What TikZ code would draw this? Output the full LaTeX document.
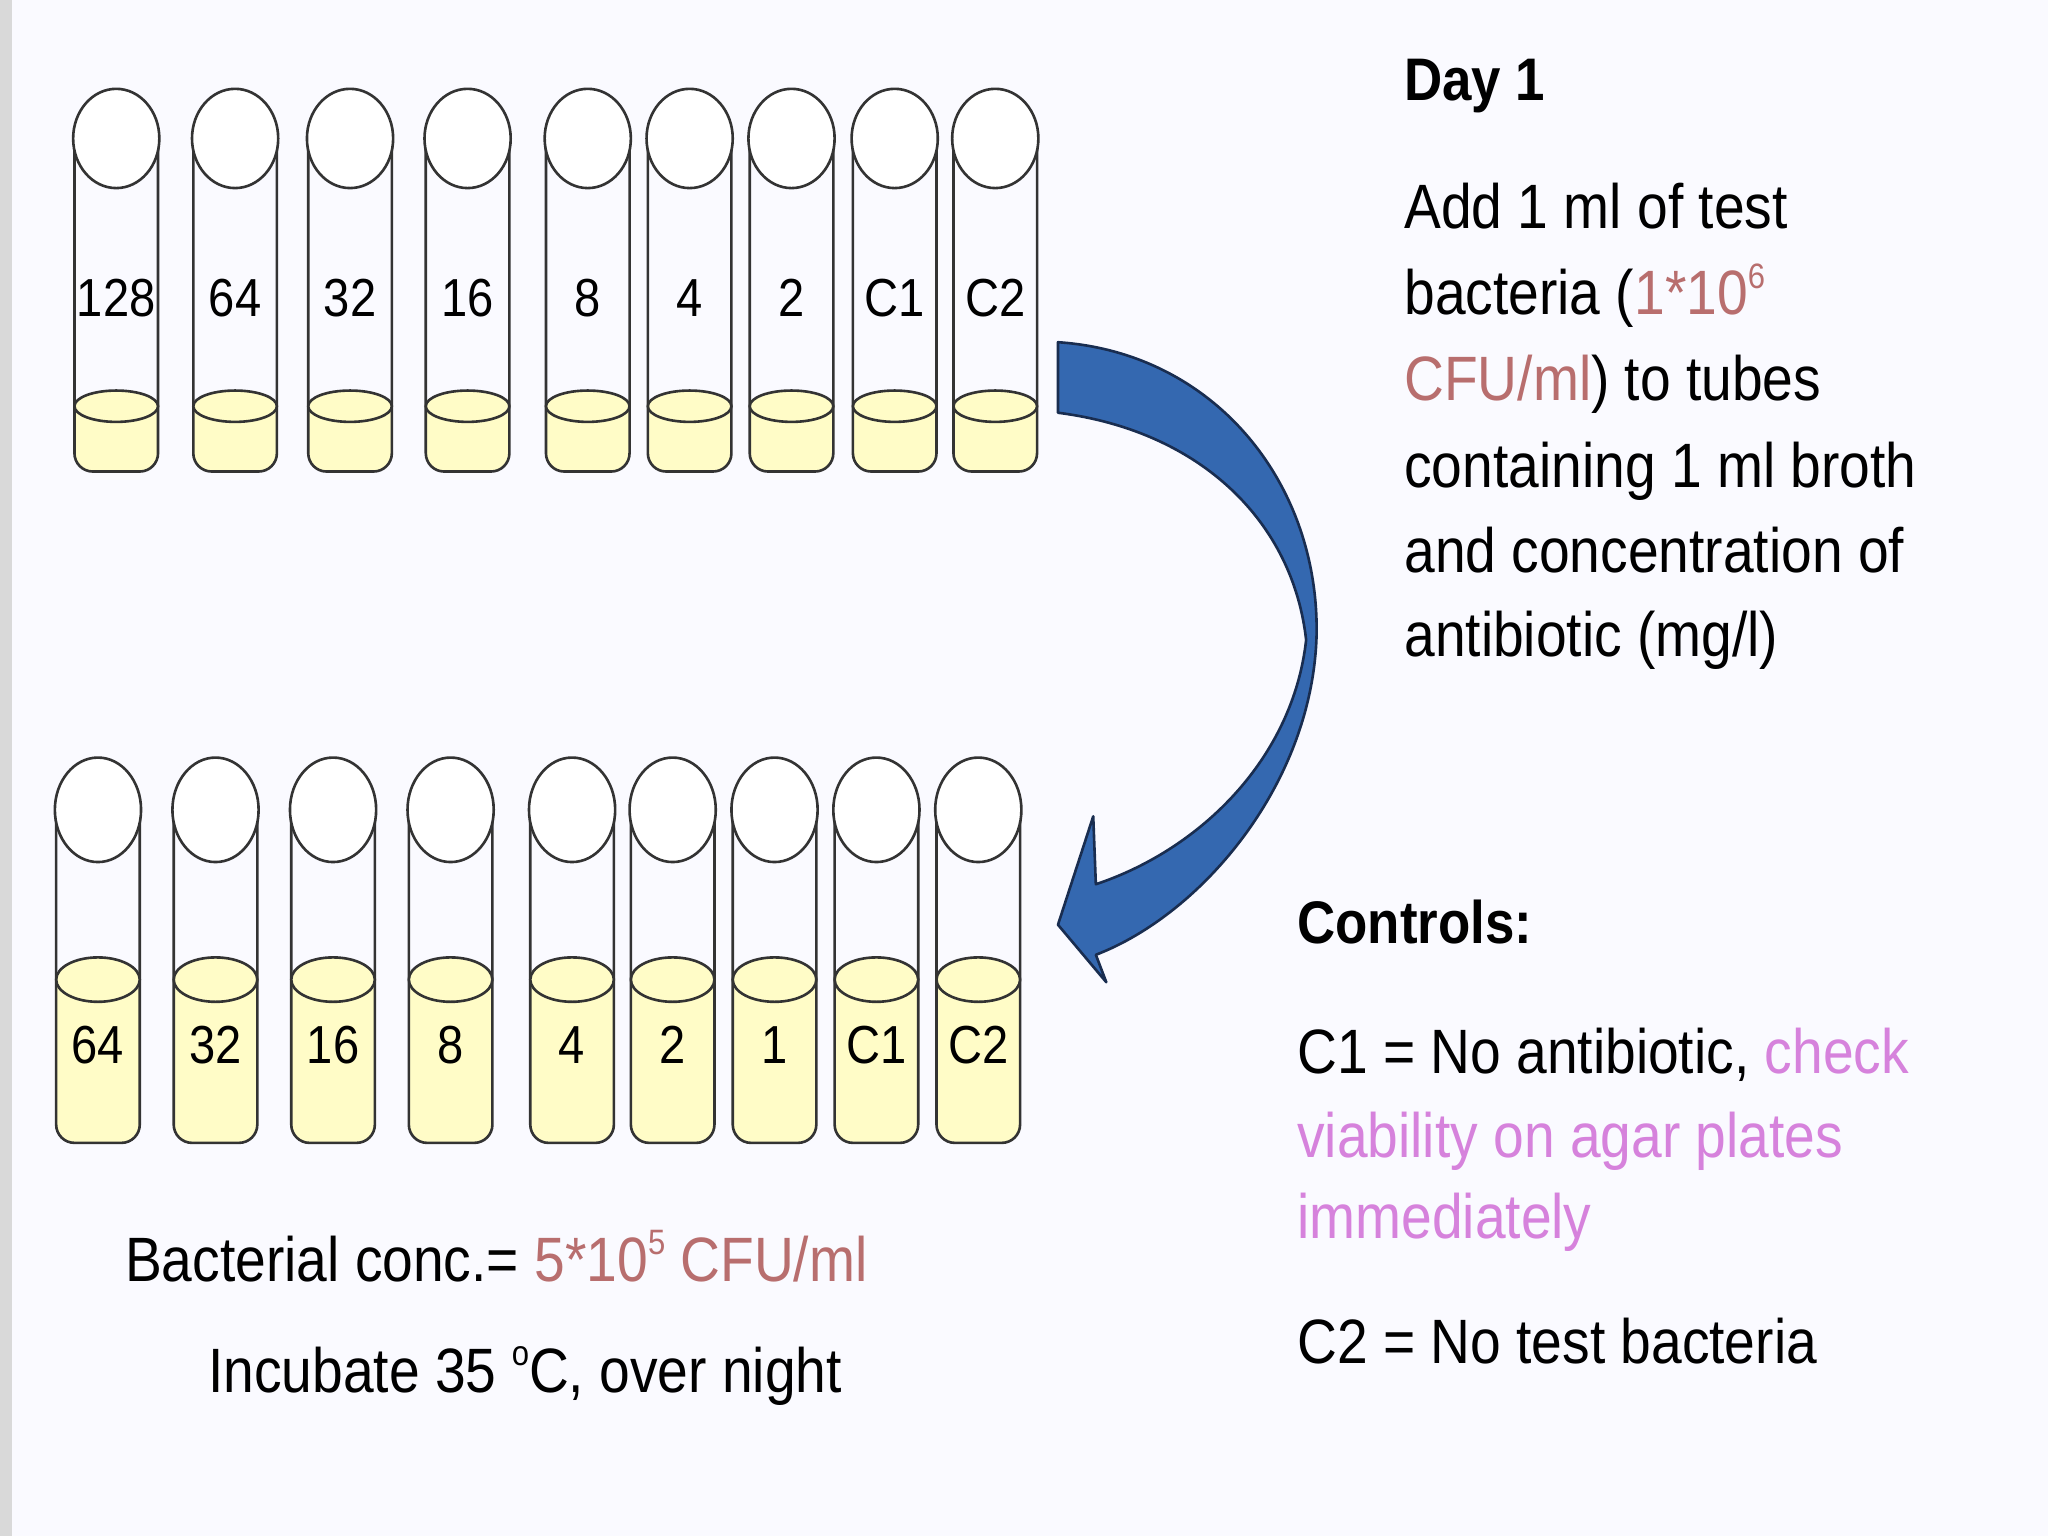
\documentclass[tikz,border=0pt]{standalone}
\usepackage{fontspec}
\setmainfont{Liberation Sans}[FakeStretch=0.88]
\definecolor{redc}{RGB}{184,110,110}
\definecolor{pinkc}{RGB}{214,130,220}
\begin{document}
\begin{tikzpicture}[x=1pt,y=-1pt,
  glass/.style={draw=black!80,line width=2pt},
  liq/.style={fill=yellow!22},
  tlabel/.style={font=\fontsize{41}{41}\selectfont,inner sep=0pt},
  body/.style={font=\fontsize{48}{48}\selectfont,inner sep=0pt,anchor=base west}]
\useasboundingbox (0,0) rectangle (1568,1176);
\fill[white!98!blue] (0,0) rectangle (1568,1176);
\fill[gray!30] (0,0) rectangle (9,1176);
% top row
\foreach \x/\t [count=\i] in {89/128,180/64,268/32,358/16,450/8,528/4,606/2,685/C1,762/C2}{
  \fill[liq,rounded corners=14pt] (\x-32,311) -- (\x-32,361) -- (\x+32,361) -- (\x+32,311);
  \draw[glass,rounded corners=14pt] (\x-32,106) -- (\x-32,361) -- (\x+32,361) -- (\x+32,106);
  \draw[glass,fill=yellow!22] (\x,311) ellipse (32pt and 12pt);
  \draw[glass,fill=white] (\x,106) ellipse (33pt and 38pt);
  \node[tlabel] (ta\i) at (\x,228) {\t};
}
% bottom row
\foreach \x/\t [count=\i] in {75/64,165/32,255/16,345/8,438/4,515/2,593/1,671/C1,749/C2}{
  \fill[liq,rounded corners=14pt] (\x-32,750) -- (\x-32,875) -- (\x+32,875) -- (\x+32,750);
  \draw[glass,rounded corners=14pt] (\x-32,620) -- (\x-32,875) -- (\x+32,875) -- (\x+32,620);
  \draw[glass,fill=yellow!22] (\x,750) ellipse (32pt and 17pt);
  \draw[glass,fill=white] (\x,620) ellipse (33pt and 40pt);
  \node[tlabel] (tb\i) at (\x,800) {\t};
}
% curved arrow
\draw[fill={rgb,255:red,52;green,104;blue,176},draw={rgb,255:red,25;green,45;blue,80},line width=2pt,line join=round]
 (810,262) .. controls (930,270) and (1010,370) .. (1008,486)
 .. controls (1005,600) and (920,700) .. (839,731) -- (847,752) -- (810,708) -- (837,625) -- (839,677)
 .. controls (920,650) and (990,580) .. (1000,490)
 .. controls (990,400) and (920,330) .. (810,316) -- cycle;
% right text
\node[body,font=\fontsize{46}{46}\selectfont\bfseries] (day) at (1075,77) {Day 1};
\node[body] (l1) at (1075,175) {Add 1 ml of test};
\node[body] (l2) at (1075,241) {bacteria (\textcolor{redc}{1*10\raisebox{0.8ex}{\fontsize{27}{27}\selectfont6}}};
\node[body] (l3) at (1075,307) {\textcolor{redc}{CFU/ml}) to tubes};
\node[body] (l4) at (1075,373) {containing 1 ml broth};
\node[body] (l5) at (1075,438) {and concentration of};
\node[body] (l6) at (1075,503) {antibiotic (mg/l)};
\node[body,font=\fontsize{46}{46}\selectfont\bfseries] (ctl) at (993,722) {Controls:};
\node[body] (c1) at (993,822) {C1 = No antibiotic, \textcolor{pinkc}{check}};
\node[body,text=pinkc] (c1b) at (993,886) {viability on agar plates};
\node[body,text=pinkc] (c1c) at (993,948) {immediately};
\node[body] (c2) at (993,1044) {C2 = No test bacteria};
% bottom text
\node[body,anchor=base] (bc) at (380,981) {Bacterial conc.= \textcolor{redc}{5*10\raisebox{0.8ex}{\fontsize{27}{27}\selectfont5} CFU/ml}};
\node[body,anchor=base] (inc) at (402,1066) {Incubate 35 \raisebox{0.8ex}{\fontsize{27}{27}\selectfont o}C, over night};
\end{tikzpicture}
\end{document}
